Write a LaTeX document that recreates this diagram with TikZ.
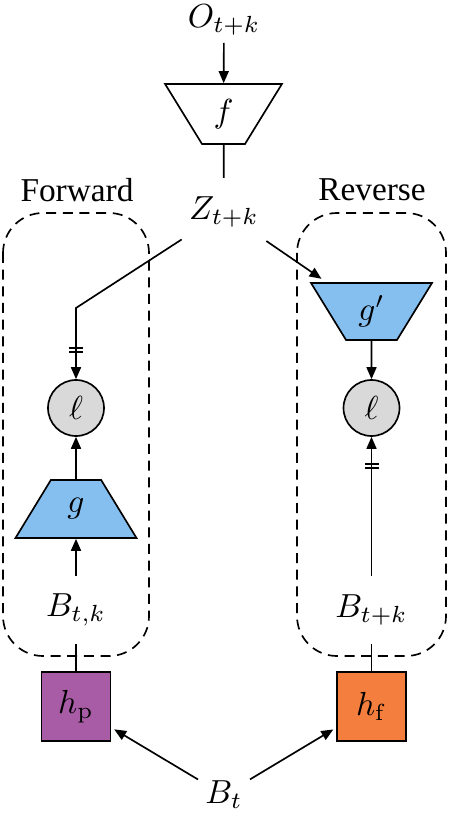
\documentclass[tikz,border=0pt]{standalone}
\usepackage{amsmath}
\usepackage[no-math]{fontspec}
\setmainfont{Liberation Serif}
\usetikzlibrary{arrows.meta, shapes.geometric, decorations.markings}

\definecolor{trapblue}{HTML}{85BFF0}
\definecolor{losgray}{HTML}{D9D9D9}
\definecolor{hpurple}{HTML}{A85CA6}
\definecolor{horange}{HTML}{F47E3E}

\begin{document}
\begin{tikzpicture}[
  x=0.3pt, y=-0.3pt, line width=0.5pt,
  >={Triangle[length=3.6pt, width=3pt]},
  var/.style = {inner sep=2pt},
  tallvar/.style = {inner sep=2pt, minimum height=20pt},
  trap/.style = {draw, trapezium, trapezium stretches=true, inner sep=0pt},
  loss/.style = {draw, circle, fill=losgray, minimum size=16.8pt, inner sep=0pt},
  head/.style = {draw, minimum size=20.7pt, inner sep=0pt},
  group/.style = {draw, dash pattern=on 3pt off 2pt, rounded corners=12pt},
  stopgrad/.style = {postaction={decorate}, decoration={markings,
      mark=at position -8.8pt with {
        \draw[-] (-0.6pt,-2.1pt) -- (-0.6pt,2.1pt);
        \draw[-] (0.6pt,-2.1pt) -- (0.6pt,2.1pt);}}}
  ]
  \useasboundingbox (0,0) rectangle (449,820);

    % Groups
  \draw[group] (3,213) rectangle (149,656);
  \draw[group] (297,213) rectangle (446,656);
  \node (fwd) at (77,190) {Forward};
  \node (rev) at (372,190) {Reverse};

    % Target encoder
  \node[var] (obs) at (224,20) {$O_{t+k}$};
  \node[trap, shape border rotate=180, minimum width=35.1pt, minimum height=18pt] (f) at (223.5,114) {$f$};
  \node[tallvar] (z) at (224,212) {$Z_{t+k}$};

    % Heads
  \node[var] (bt) at (224,795) {$B_t$};
  \node[head, fill=hpurple] (hp) at (76,706.5) {$h_{\mathrm{p}}$};
  \node[head, fill=horange] (hf) at (371.5,706.5) {$h_{\mathrm{f}}$};

    % Forward
  \node[tallvar] (btk) at (76,610) {$B_{t,k}$};
  \node[trap, fill=trapblue, minimum width=36.3pt, minimum height=17.4pt] (g) at (76,509) {$g$};
  \node[loss] (lossf) at (76,408) {$\ell$};
  \coordinate (bend) at (76,308);

    % Reverse
  \node[tallvar] (btpk) at (371.5,610) {$B_{t+k}$};
  \node[trap, fill=trapblue, shape border rotate=180, minimum width=36.3pt, minimum height=17.1pt] (grev) at (371.5,311.5) {$g'$};
  \node[loss] (lossr) at (371.5,408) {$\ell$};

  \draw[->] (obs) -- (f);
  \draw (f) -- (z);
  \draw[->, stopgrad] (z) -- (bend) -- (lossf);
  \draw[->] (z) -- ([xshift=-15pt, yshift=1pt]grev.north);
  \draw[->] (g) -- (lossf);
  \draw[->] (btk) -- (g);
  \draw (btk) -- (hp);
  \draw[->] (grev) -- (lossr);
  \draw[->, stopgrad] (btpk) -- (lossr);
  \draw (btpk) -- (hf);
  \draw[->, shorten >=1pt] (bt) -- (hp);
  \draw[->, shorten >=1pt] (bt) -- (hf);

\end{tikzpicture}
\end{document}
